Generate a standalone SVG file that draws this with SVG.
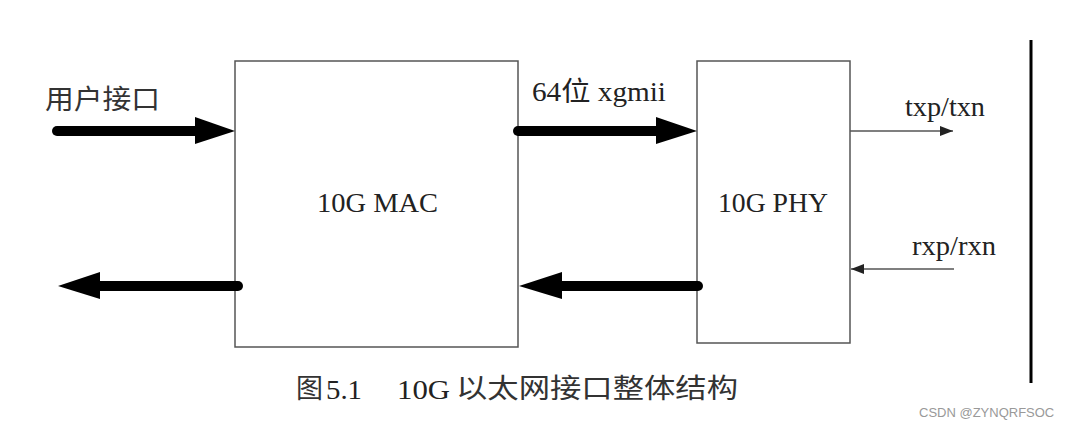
<svg xmlns="http://www.w3.org/2000/svg" width="1068" height="430" viewBox="0 0 1068 430">
<style>
.box{fill:#fff;stroke:#555;stroke-width:1.5}
.thick{stroke:#000;stroke-width:10;stroke-linecap:round;fill:none}
.thin{stroke:#555;stroke-width:1.5;fill:none}
.t{font-family:"Liberation Serif","Noto Sans CJK SC",serif;fill:#222;font-size:27px}
.c{font-family:"Noto Sans CJK SC","Liberation Serif",sans-serif;fill:#333;font-size:27px}
.wm{font-family:"Liberation Sans",Arial,sans-serif;fill:#999;font-size:13px}
</style>
<defs>
<marker id="small" markerUnits="userSpaceOnUse" markerWidth="14" markerHeight="10" refX="13" refY="5" orient="auto"><path d="M0,0 L13,5 L0,10 Z" fill="#222"/></marker>
</defs>
<rect width="1068" height="430" fill="#fff"/>
<g id="mac"><rect class="box" x="235" y="61" width="283" height="286"/><text class="t" x="317" y="212" textLength="121" lengthAdjust="spacingAndGlyphs">10G MAC</text></g>
<g id="phy"><rect class="box" x="697" y="61" width="153" height="282"/><text class="t" x="718" y="212" textLength="110" lengthAdjust="spacingAndGlyphs">10G PHY</text></g>
<g id="connectors">
<line class="thick" x1="57" y1="131" x2="200" y2="131"/><path d="M195,117 L235,131 L195,144 Z" fill="#000"/>
<line class="thick" x1="518" y1="131" x2="660" y2="131"/><path d="M656,117 L697,131 L656,144 Z" fill="#000"/>
<line class="thick" x1="238" y1="286" x2="95" y2="286"/><path d="M100,272 L58,286 L100,299 Z" fill="#000"/>
<line class="thick" x1="698" y1="286" x2="555" y2="286"/><path d="M562,272 L519,286 L562,299 Z" fill="#000"/>
<line class="thin" x1="850" y1="131" x2="953" y2="131" marker-end="url(#small)"/>
<line class="thin" x1="954" y1="269" x2="851" y2="269" marker-end="url(#small)"/>
</g>
<line x1="1031" y1="40" x2="1031" y2="383" stroke="#000" stroke-width="3"/>
<g id="labels">
<text class="c" x="45" y="109" textLength="115" lengthAdjust="spacingAndGlyphs">用户接口</text>
<text class="t" x="532" y="101" textLength="134" lengthAdjust="spacingAndGlyphs">64位 xgmii</text>
<text class="t" x="905" y="116" textLength="80" lengthAdjust="spacingAndGlyphs">txp/txn</text>
<text class="t" x="912" y="255" textLength="84" lengthAdjust="spacingAndGlyphs">rxp/rxn</text>
<text class="c" x="296" y="398" font-size="27">图</text>
<text class="t" x="326" y="399" textLength="36" lengthAdjust="spacingAndGlyphs">5.1</text>
<text class="t" x="397" y="399" textLength="53" lengthAdjust="spacingAndGlyphs">10G</text>
<text class="c" x="456" y="398" font-size="28" textLength="282" lengthAdjust="spacingAndGlyphs">以太网接口整体结构</text>
<text class="wm" x="919" y="417">CSDN @ZYNQRFSOC</text>
</g>
</svg>
